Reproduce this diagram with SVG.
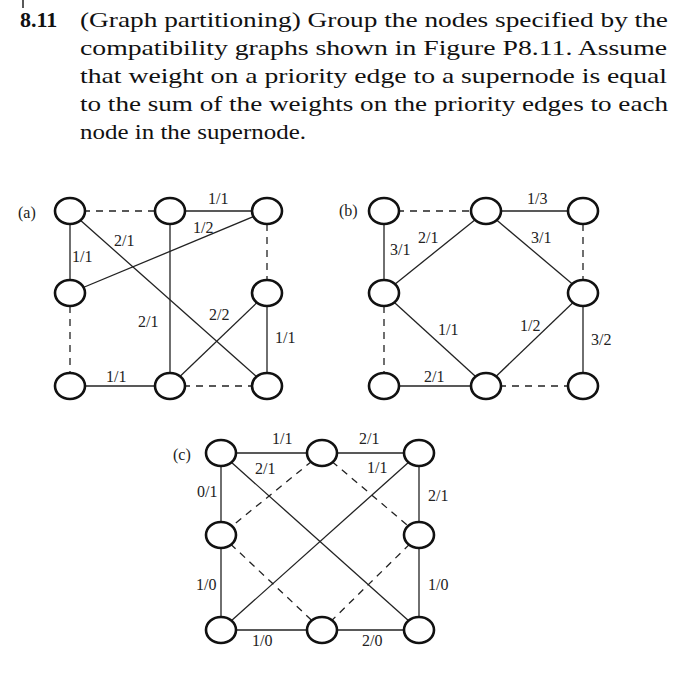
<svg xmlns="http://www.w3.org/2000/svg" width="689" height="693" viewBox="0 0 689 693">
<style>
.h{font-family:"Liberation Serif","Times New Roman",serif;font-size:22px;fill:#111}
.l{font-family:"Liberation Serif","Times New Roman",serif;font-size:16px;fill:#222}
.n{fill:#fff;stroke:#111;stroke-width:2.6}
.s{stroke:#222;stroke-width:1.3;fill:none}
.d{stroke:#222;stroke-width:1.3;fill:none;stroke-dasharray:7,6}
</style>
<rect width="689" height="693" fill="#fff"/>
<line x1="23" y1="0" x2="23" y2="8" stroke="#222" stroke-width="1.5"/>
<g id="header">
<text class="h" x="20" y="27" font-weight="bold">8.11</text>
<text class="h" x="80" y="27" textLength="588" lengthAdjust="spacingAndGlyphs">(Graph partitioning) Group the nodes specified by the</text>
<text class="h" x="80" y="55" textLength="587" lengthAdjust="spacingAndGlyphs">compatibility graphs shown in Figure P8.11. Assume</text>
<text class="h" x="80" y="83" textLength="587" lengthAdjust="spacingAndGlyphs">that weight on a priority edge to a supernode is equal</text>
<text class="h" x="80" y="111" textLength="588" lengthAdjust="spacingAndGlyphs">to the sum of the weights on the priority edges to each</text>
<text class="h" x="80" y="139" textLength="226" lengthAdjust="spacingAndGlyphs">node in the supernode.</text>
</g>
<g id="connectors">
<line class="d" x1="70" y1="211" x2="170" y2="211"/>
<line class="s" x1="170" y1="211" x2="267" y2="211"/>
<line class="s" x1="70" y1="211" x2="70" y2="293"/>
<line class="s" x1="70" y1="211" x2="267" y2="386"/>
<line class="s" x1="70" y1="293" x2="267" y2="211"/>
<line class="s" x1="170" y1="211" x2="170" y2="386"/>
<line class="s" x1="267" y1="293" x2="170" y2="386"/>
<line class="d" x1="267" y1="211" x2="267" y2="293"/>
<line class="s" x1="267" y1="293" x2="267" y2="386"/>
<line class="d" x1="70" y1="293" x2="70" y2="386"/>
<line class="s" x1="70" y1="386" x2="170" y2="386"/>
<line class="d" x1="170" y1="386" x2="267" y2="386"/>
<line class="d" x1="384" y1="211" x2="486" y2="211"/>
<line class="s" x1="486" y1="211" x2="583" y2="211"/>
<line class="d" x1="583" y1="211" x2="583" y2="293"/>
<line class="s" x1="384" y1="211" x2="384" y2="293"/>
<line class="s" x1="384" y1="293" x2="486" y2="211"/>
<line class="s" x1="486" y1="211" x2="583" y2="293"/>
<line class="s" x1="384" y1="293" x2="486" y2="386"/>
<line class="s" x1="583" y1="293" x2="486" y2="386"/>
<line class="s" x1="583" y1="293" x2="583" y2="386"/>
<line class="d" x1="384" y1="293" x2="384" y2="386"/>
<line class="s" x1="384" y1="386" x2="486" y2="386"/>
<line class="d" x1="486" y1="386" x2="583" y2="386"/>
<line class="s" x1="221" y1="453" x2="322" y2="453"/>
<line class="s" x1="322" y1="453" x2="419" y2="453"/>
<line class="s" x1="221" y1="453" x2="221" y2="535"/>
<line class="s" x1="419" y1="453" x2="419" y2="535"/>
<line class="s" x1="221" y1="535" x2="221" y2="630"/>
<line class="s" x1="419" y1="535" x2="419" y2="630"/>
<line class="s" x1="221" y1="630" x2="322" y2="630"/>
<line class="s" x1="322" y1="630" x2="419" y2="630"/>
<line class="s" x1="221" y1="453" x2="419" y2="630"/>
<line class="s" x1="221" y1="630" x2="419" y2="453"/>
<line class="d" x1="322" y1="453" x2="221" y2="535"/>
<line class="d" x1="322" y1="453" x2="419" y2="535"/>
<line class="d" x1="221" y1="535" x2="322" y2="630"/>
<line class="d" x1="419" y1="535" x2="322" y2="630"/>
</g>
<g id="labels">
<text class="l" x="18" y="218">(a)</text>
<text class="l" x="72" y="262">1/1</text>
<text class="l" x="114" y="246">2/1</text>
<text class="l" x="193" y="233">1/2</text>
<text class="l" x="208" y="204">1/1</text>
<text class="l" x="138" y="327">2/1</text>
<text class="l" x="209" y="320">2/2</text>
<text class="l" x="275" y="343">1/1</text>
<text class="l" x="106" y="382">1/1</text>
<text class="l" x="339" y="216">(b)</text>
<text class="l" x="390" y="255">3/1</text>
<text class="l" x="418" y="243">2/1</text>
<text class="l" x="527" y="204">1/3</text>
<text class="l" x="531" y="243">3/1</text>
<text class="l" x="438" y="335">1/1</text>
<text class="l" x="520" y="331">1/2</text>
<text class="l" x="591" y="345">3/2</text>
<text class="l" x="424" y="382">2/1</text>
<text class="l" x="173" y="460">(c)</text>
<text class="l" x="272" y="444">1/1</text>
<text class="l" x="359" y="444">2/1</text>
<text class="l" x="255" y="474">2/1</text>
<text class="l" x="367" y="473">1/1</text>
<text class="l" x="197" y="497">0/1</text>
<text class="l" x="428" y="501">2/1</text>
<text class="l" x="196" y="590">1/0</text>
<text class="l" x="428" y="590">1/0</text>
<text class="l" x="252" y="646">1/0</text>
<text class="l" x="362" y="646">2/0</text>
</g>
<g id="a-nodes">
<ellipse id="a1" class="n" cx="70" cy="211" rx="15" ry="13"/>
<ellipse id="a2" class="n" cx="170" cy="211" rx="15" ry="13"/>
<ellipse id="a3" class="n" cx="267" cy="211" rx="15" ry="13"/>
<ellipse id="a4" class="n" cx="70" cy="293" rx="15" ry="13"/>
<ellipse id="a5" class="n" cx="267" cy="293" rx="15" ry="13"/>
<ellipse id="a6" class="n" cx="70" cy="386" rx="15" ry="13"/>
<ellipse id="a7" class="n" cx="170" cy="386" rx="15" ry="13"/>
<ellipse id="a8" class="n" cx="267" cy="386" rx="15" ry="13"/>
</g>
<g id="b-nodes">
<ellipse id="b1" class="n" cx="384" cy="211" rx="15" ry="13"/>
<ellipse id="b2" class="n" cx="486" cy="211" rx="15" ry="13"/>
<ellipse id="b3" class="n" cx="583" cy="211" rx="15" ry="13"/>
<ellipse id="b4" class="n" cx="384" cy="293" rx="15" ry="13"/>
<ellipse id="b5" class="n" cx="583" cy="293" rx="15" ry="13"/>
<ellipse id="b6" class="n" cx="384" cy="386" rx="15" ry="13"/>
<ellipse id="b7" class="n" cx="486" cy="386" rx="15" ry="13"/>
<ellipse id="b8" class="n" cx="583" cy="386" rx="15" ry="13"/>
</g>
<g id="c-nodes">
<ellipse id="c1" class="n" cx="221" cy="453" rx="15" ry="13"/>
<ellipse id="c2" class="n" cx="322" cy="453" rx="15" ry="13"/>
<ellipse id="c3" class="n" cx="419" cy="453" rx="15" ry="13"/>
<ellipse id="c4" class="n" cx="221" cy="535" rx="15" ry="13"/>
<ellipse id="c5" class="n" cx="419" cy="535" rx="15" ry="13"/>
<ellipse id="c6" class="n" cx="221" cy="630" rx="15" ry="13"/>
<ellipse id="c7" class="n" cx="322" cy="630" rx="15" ry="13"/>
<ellipse id="c8" class="n" cx="419" cy="630" rx="15" ry="13"/>
</g>
</svg>
